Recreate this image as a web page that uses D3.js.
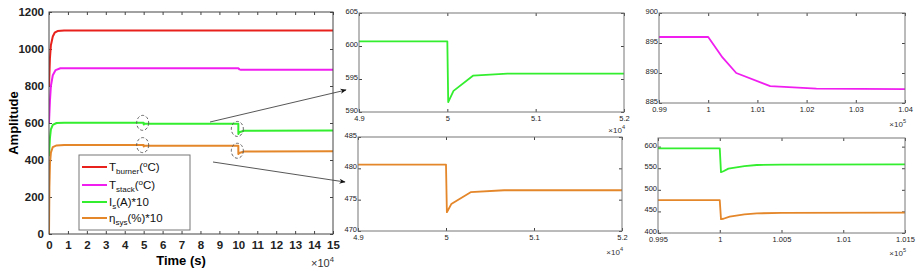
<!DOCTYPE html>
<html>
<head>
<meta charset="utf-8">
<script src="https://cdn.jsdelivr.net/npm/d3@7"></script>
<style>
    body { margin: 0; background: #fff; }
    svg { font-family: "Liberation Sans", Arial, sans-serif; }
    .axis text { fill: #222; }
    .axis line { stroke: #444; }
</style>
</head>
<body>
<div id="chart"></div>
<script>
const width = 922;
const height = 272;

// main chart, time in units of 1e4 s
const mainXTicks = d3.range(0, 16);
const mainYTicks = [0, 200, 400, 600, 800, 1000, 1200];
const burner = [[0, 800], [0.05, 950], [0.1, 1020], [0.2, 1068], [0.3, 1088], [0.45, 1097], [0.8, 1100], [15, 1100]];
const stack = [[0, 600], [0.05, 720], [0.1, 800], [0.2, 858], [0.35, 886], [0.6, 896], [10, 896], [10.03, 892.5], [10.06, 890], [10.13, 887.8], [10.3, 887.3], [15, 887.3]];
const current = [[0, 420], [0.05, 520], [0.1, 565], [0.2, 590], [0.4, 600], [0.8, 600.7], [5, 600.7], [5.001, 591.5], [5.03, 595.5], [5.1, 595.7], [10, 595.7], [10.001, 541], [10.05, 550], [10.3, 558], [15, 559]];
const eff = [[0, 0], [0.02, 250], [0.05, 380], [0.1, 440], [0.2, 470], [0.4, 479], [0.8, 480.5], [5, 480.5], [5.001, 473.2], [5.03, 476.2], [5.1, 476.5], [10, 476.5], [10.001, 432], [10.05, 438], [10.3, 446], [15, 447]];

// zoom 1: current at 5e4 s (units 1e4)
const z1XTicks = [4.9, 5, 5.1, 5.2];
const z1YTicks = [590, 595, 600, 605];
const z1Current = [[4.9, 600.7], [5.0, 600.7], [5.001, 591.5], [5.007, 593.2], [5.029, 595.5], [5.068, 595.8], [5.2, 595.8]];

// zoom 2: efficiency at 5e4 s
const z2XTicks = [4.9, 5, 5.1, 5.2];
const z2YTicks = [470, 475, 480, 485];
const z2Eff = [[4.9, 480.6], [5.0, 480.6], [5.001, 473.0], [5.006, 474.3], [5.028, 476.2], [5.066, 476.5], [5.2, 476.5]];

// zoom 3: stack temperature at 1e5 s (units 1e5)
const z3XTicks = [0.99, 1, 1.01, 1.02, 1.03, 1.04];
const z3YTicks = [885, 890, 895, 900];
const z3Stack = [[0.99, 896], [1.0, 896], [1.0029, 892.6], [1.0057, 890], [1.0126, 887.8], [1.022, 887.4], [1.04, 887.3]];

// zoom 4: current and efficiency at 1e5 s
const z4XTicks = [0.995, 1, 1.005, 1.01, 1.015];
const z4YTicks = [400, 450, 500, 550, 600];
const z4Current = [[0.995, 596], [1.0, 596], [1.0001, 541], [1.0003, 543], [1.0007, 549], [1.002, 555], [1.003, 557.5], [1.005, 558.5], [1.015, 559]];
const z4Eff = [[0.995, 476], [1.0, 476], [1.0001, 432], [1.0003, 433], [1.0008, 438], [1.002, 443], [1.003, 445.5], [1.005, 446.5], [1.015, 447]];

const red = "#e8211d";
const magenta = "#f01ff0";
const green = "#33ee2e";
const orange = "#e4862a";

const svg = d3
    .select("#chart")
    .append("svg")
    .attr("width", width)
    .attr("height", height);

svg.append("defs").append("marker")
    .attr("id", "arrow")
    .attr("viewBox", "0 0 10 10")
    .attr("refX", 9)
    .attr("refY", 5)
    .attr("markerWidth", 9)
    .attr("markerHeight", 7)
    .attr("orient", "auto")
    .append("path")
    .attr("d", "M0,1L10,5L0,9L3,5Z")
    .attr("fill", "#111");

let clipCount = 0;

function panel(box, xDomain, yDomain, xTicks, yTicks, o) {
    const x = d3.scaleLinear().domain(xDomain).range([box.left, box.right]);
    const y = d3.scaleLinear().domain(yDomain).range([box.bottom, box.top]);
    const g = svg.append("g");
    const tl = o.tickLen;

    g.append("g").attr("class", "axis")
        .attr("transform", "translate(0," + box.bottom + ")")
        .style("font-size", o.font + "px").style("font-weight", o.bold ? "bold" : "normal")
        .call(d3.axisBottom(x).tickValues(xTicks).tickSize(-tl).tickSizeOuter(0).tickPadding(o.xPad).tickFormat(d3.format("")));
    g.append("g").attr("class", "axis")
        .attr("transform", "translate(0," + box.top + ")")
        .call(d3.axisTop(x).tickValues(xTicks).tickSize(-tl).tickSizeOuter(0).tickFormat(""));
    const left = g.append("g").attr("class", "axis")
        .attr("transform", "translate(" + box.left + ",0)")
        .style("font-size", o.font + "px").style("font-weight", o.bold ? "bold" : "normal")
        .call(d3.axisLeft(y).tickValues(yTicks).tickSize(-tl).tickSizeOuter(0).tickPadding(o.yPad).tickFormat(d3.format("")));
    left.selectAll("text").attr("y", o.yShift || 0);
    g.append("g").attr("class", "axis")
        .attr("transform", "translate(" + box.right + ",0)")
        .call(d3.axisRight(y).tickValues(yTicks).tickSize(-tl).tickSizeOuter(0).tickFormat(""));
    g.selectAll(".axis .domain").remove();
    g.selectAll(".axis text").attr("font-family", null);
    g.selectAll(".axis line").attr("stroke", o.frame);

    const id = "clip" + (clipCount++);
    svg.select("defs").append("clipPath").attr("id", id)
        .append("rect")
        .attr("x", box.left).attr("y", box.top - 1)
        .attr("width", box.right - box.left).attr("height", box.bottom - box.top + 2);

    const plot = g.append("g").attr("clip-path", "url(#" + id + ")");
    const line = d3.line().x(d => x(d[0])).y(d => y(d[1]));
    o.series.forEach(function(s) {
        plot.append("path")
            .datum(s.data)
            .attr("fill", "none")
            .attr("stroke", s.color)
            .attr("stroke-width", o.lineWidth)
            .attr("stroke-linejoin", "round")
            .attr("d", line);
    });

    g.append("rect")
        .attr("x", box.left).attr("y", box.top)
        .attr("width", box.right - box.left).attr("height", box.bottom - box.top)
        .attr("fill", "none")
        .attr("stroke", o.frame)
        .attr("stroke-width", 1);

    return { x: x, y: y, g: g };
}

function multiplier(xp, yp, exp, size) {
    const t = svg.append("text")
        .attr("x", xp).attr("y", yp)
        .attr("text-anchor", "end")
        .attr("fill", "#333")
        .style("font-size", size + "px");
    t.append("tspan").text("\u00d710");
    t.append("tspan").attr("dy", -size * 0.45).style("font-size", (size * 0.7) + "px").text(exp);
}

// main chart
const main = panel({ left: 49, right: 333, top: 12, bottom: 234 }, [0, 15], [0, 1200], mainXTicks, mainYTicks, {
    tickLen: 3, font: 11.5, bold: true, xPad: 7, yPad: 5, frame: "#444", lineWidth: 2,
    series: [
        { data: burner, color: red },
        { data: stack, color: magenta },
        { data: current, color: green },
        { data: eff, color: orange }
    ]
});

svg.append("text")
    .attr("x", 181).attr("y", 265)
    .attr("text-anchor", "middle")
    .style("font-size", "13px").style("font-weight", "bold")
    .text("Time (s)");
svg.append("text")
    .attr("transform", "translate(18,123) rotate(-90)")
    .attr("text-anchor", "middle")
    .style("font-size", "13px").style("font-weight", "bold")
    .text("Amplitude");
multiplier(334, 267, "4", 11);

// dashed circles on the main chart
const marks = [[5, 600.7], [5, 480.5], [10, 568], [10, 450]];
svg.append("g").selectAll("ellipse")
    .data(marks)
    .join("ellipse")
    .attr("cx", d => main.x(d[0]) - 1)
    .attr("cy", d => main.y(d[1]))
    .attr("rx", 6)
    .attr("ry", 7.5)
    .attr("fill", "none")
    .attr("stroke", "#555")
    .attr("stroke-width", 0.9)
    .attr("stroke-dasharray", "3,2");

// legend
const legend = svg.append("g");
legend.append("rect")
    .attr("x", 79).attr("y", 155)
    .attr("width", 111).attr("height", 75)
    .attr("fill", "#fff")
    .attr("stroke", "#777");
const legendRows = [
    { color: red, y: 167, main: "T", sub: "burner", rest: "(", sup: "o", tail: "C)" },
    { color: magenta, y: 185, main: "T", sub: "stack", rest: "(", sup: "o", tail: "C)" },
    { color: green, y: 202, main: "I", sub: "s", rest: "(A)*10" },
    { color: orange, y: 218, main: "\u03b7", sub: "sys", rest: "(%)*10" }
];
legendRows.forEach(function(r) {
    legend.append("line")
        .attr("x1", 82).attr("x2", 107)
        .attr("y1", r.y).attr("y2", r.y)
        .attr("stroke", r.color).attr("stroke-width", 2);
    const t = legend.append("text")
        .attr("x", 109).attr("y", r.y + 4)
        .attr("fill", "#111")
        .style("font-size", "11.5px");
    t.append("tspan").text(r.main);
    t.append("tspan").attr("dy", 3).style("font-size", "8px").text(r.sub);
    t.append("tspan").attr("dy", -3).text(r.rest);
    if (r.sup) {
        t.append("tspan").attr("dy", -4).style("font-size", "8px").text(r.sup);
        t.append("tspan").attr("dy", 4).text(r.tail);
    }
});

// arrows to the zoom panels
svg.append("line")
    .attr("x1", 210).attr("y1", 122).attr("x2", 346).attr("y2", 90)
    .attr("stroke", "#444").attr("stroke-width", 0.9)
    .attr("marker-end", "url(#arrow)");
svg.append("line")
    .attr("x1", 213).attr("y1", 162).attr("x2", 345).attr("y2", 182)
    .attr("stroke", "#444").attr("stroke-width", 0.9)
    .attr("marker-end", "url(#arrow)");

const small = { tickLen: 3, font: 7.5, bold: false, xPad: 4, yPad: 1, yShift: -2, frame: "#777", lineWidth: 1.8 };

panel({ left: 359, right: 624, top: 13, bottom: 112 }, [4.9, 5.2], [590, 605], z1XTicks, z1YTicks,
    Object.assign({}, small, { series: [{ data: z1Current, color: green }] }));
multiplier(625, 133, "4", 8);

panel({ left: 358, right: 622, top: 137, bottom: 231 }, [4.9, 5.2], [470, 485], z2XTicks, z2YTicks,
    Object.assign({}, small, { series: [{ data: z2Eff, color: orange }] }));
multiplier(623, 255, "4", 8);

panel({ left: 659, right: 905, top: 13, bottom: 103 }, [0.99, 1.04], [885, 900], z3XTicks, z3YTicks,
    Object.assign({}, small, { series: [{ data: z3Stack, color: magenta }] }));
multiplier(906, 127, "5", 8);

panel({ left: 658, right: 905, top: 138, bottom: 233 }, [0.995, 1.015], [400, 620], z4XTicks, z4YTicks,
    Object.assign({}, small, { series: [{ data: z4Current, color: green }, { data: z4Eff, color: orange }] }));
multiplier(906, 256, "5", 8);
</script>
</body>
</html>
